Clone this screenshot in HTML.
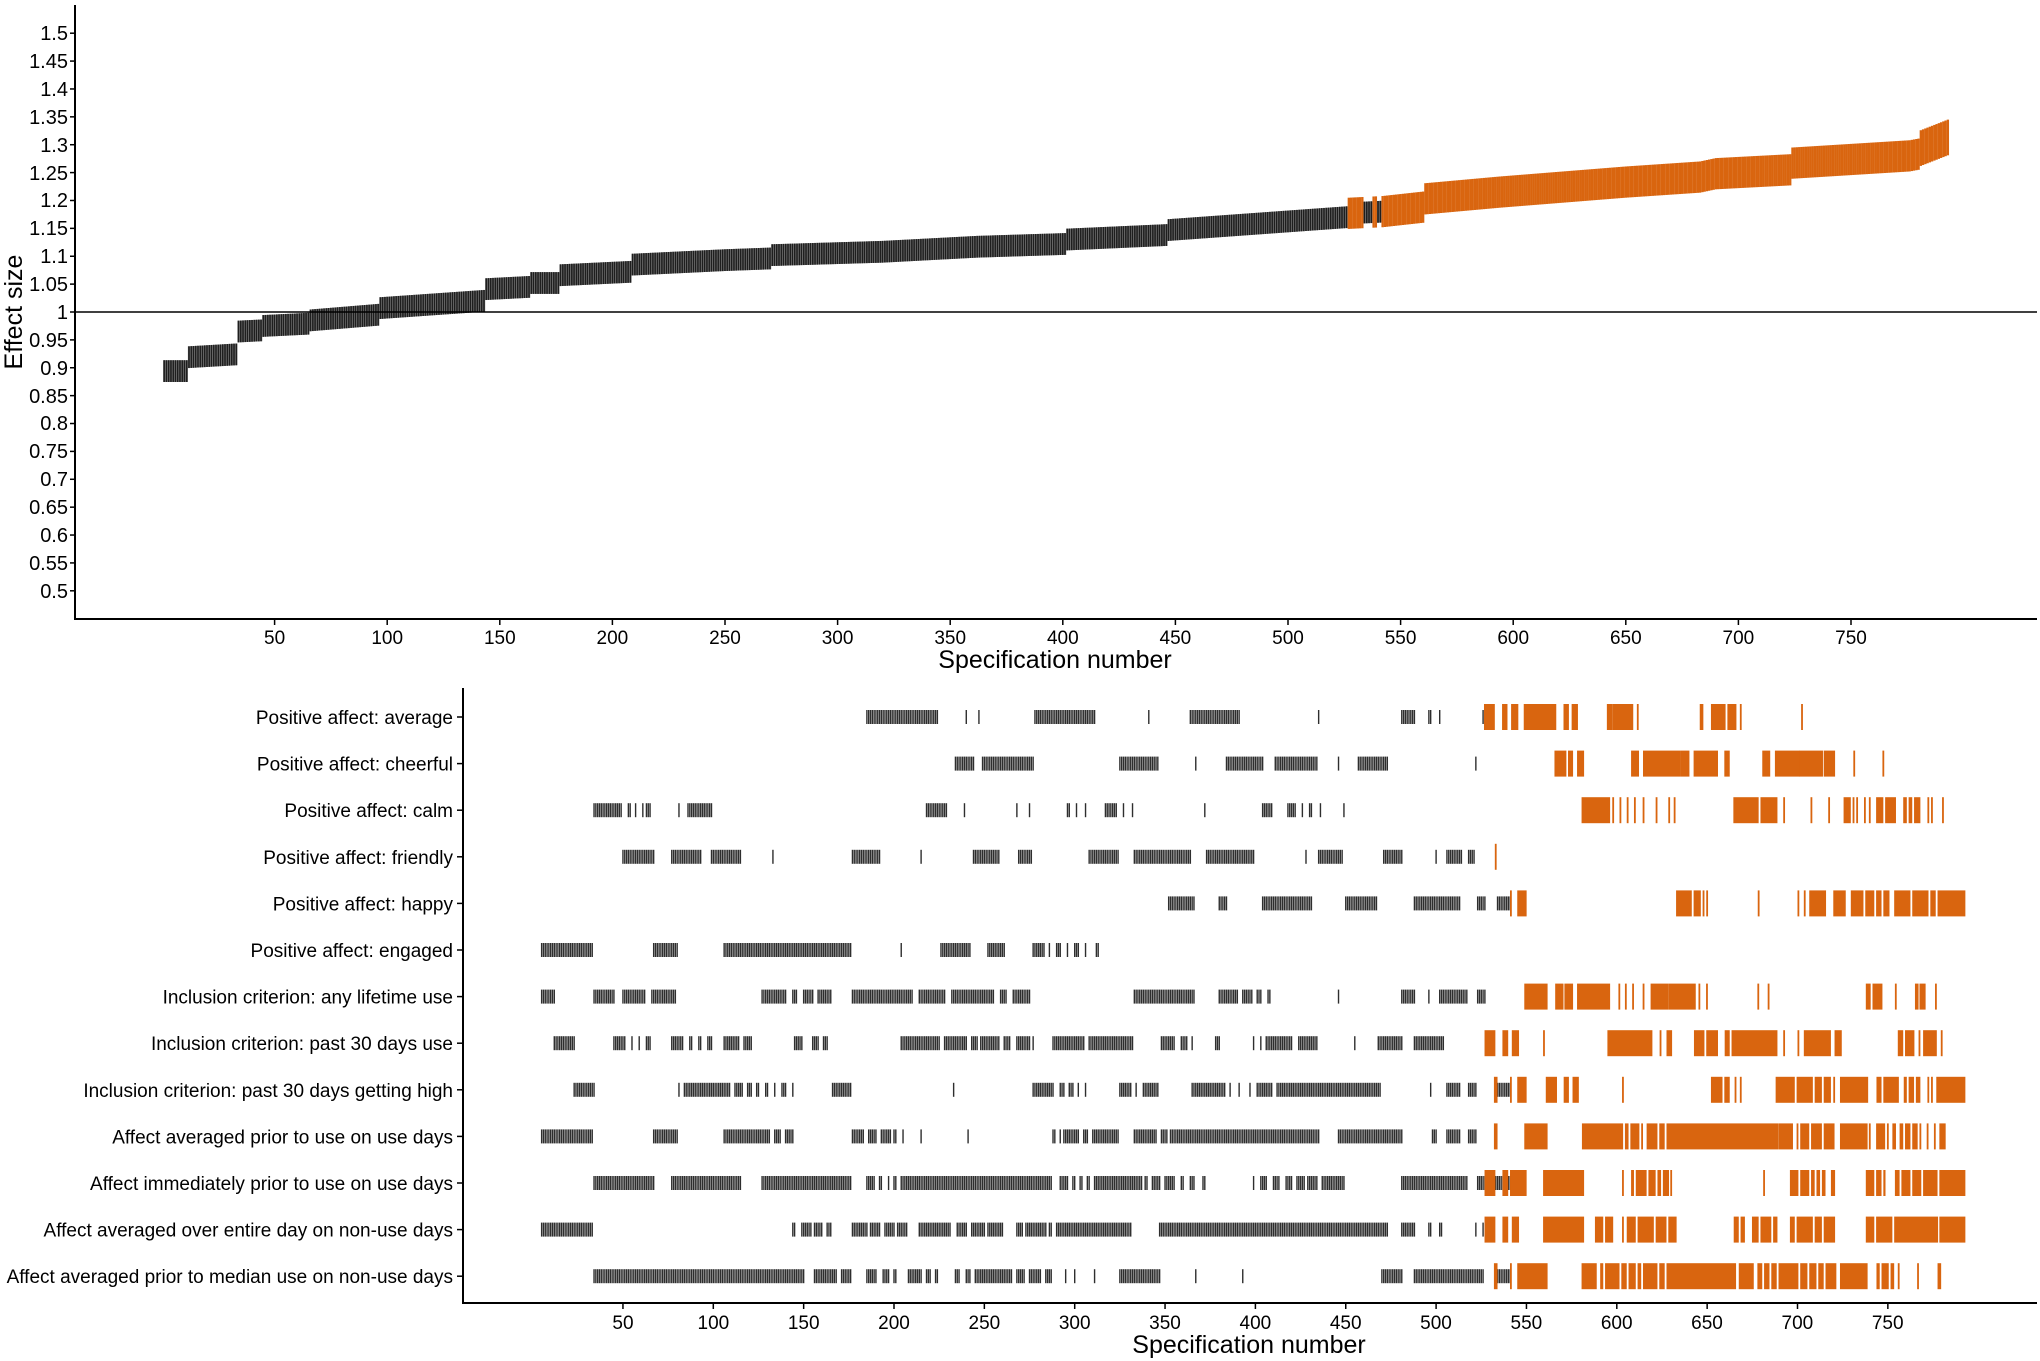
<!DOCTYPE html>
<html><head><meta charset="utf-8">
<style>
html,body{margin:0;padding:0;background:#fff;}
svg{display:block;}
text{font-family:"Liberation Sans",Arial,sans-serif;fill:#000;}
</style></head>
<body>
<svg id="s" width="2040" height="1361" viewBox="0 0 2040 1361" xmlns="http://www.w3.org/2000/svg">
<g id="topg"></g>
<g id="botg"></g>
<line x1="75" y1="5" x2="75" y2="620" stroke="#000" stroke-width="2"/>
<line x1="74" y1="619" x2="2037" y2="619" stroke="#000" stroke-width="2"/>
<line x1="75" y1="312" x2="2037" y2="312" stroke="#000" stroke-width="1.6"/>
<g font-size="20" text-anchor="end">
<text x="68" y="40">1.5</text><text x="68" y="68">1.45</text><text x="68" y="96">1.4</text><text x="68" y="124">1.35</text><text x="68" y="152">1.3</text><text x="68" y="180">1.25</text><text x="68" y="207">1.2</text><text x="68" y="235">1.15</text><text x="68" y="263">1.1</text><text x="68" y="291">1.05</text><text x="68" y="319">1</text><text x="68" y="347">0.95</text><text x="68" y="375">0.9</text><text x="68" y="403">0.85</text><text x="68" y="430">0.8</text><text x="68" y="458">0.75</text><text x="68" y="486">0.7</text><text x="68" y="514">0.65</text><text x="68" y="542">0.6</text><text x="68" y="570">0.55</text><text x="68" y="598">0.5</text>
</g>
<g font-size="19" text-anchor="middle">
<text x="274.6" y="644">50</text><text x="387.2" y="644">100</text><text x="499.8" y="644">150</text><text x="612.4" y="644">200</text><text x="725" y="644">250</text><text x="837.6" y="644">300</text><text x="950.2" y="644">350</text><text x="1062.8" y="644">400</text><text x="1175.4" y="644">450</text><text x="1288" y="644">500</text><text x="1400.6" y="644">550</text><text x="1513.2" y="644">600</text><text x="1625.8" y="644">650</text><text x="1738.4" y="644">700</text><text x="1851" y="644">750</text>
</g>
<text x="1055" y="668" font-size="25" text-anchor="middle">Specification number</text>
<text transform="translate(22,312) rotate(-90)" font-size="25" text-anchor="middle">Effect size</text>
<line x1="463" y1="688" x2="463" y2="1304" stroke="#000" stroke-width="2"/>
<line x1="462" y1="1303" x2="2037" y2="1303" stroke="#000" stroke-width="2"/>
<g font-size="19" text-anchor="end">
<text x="453" y="724">Positive affect: average</text>
<text x="453" y="770.6">Positive affect: cheerful</text>
<text x="453" y="817.2">Positive affect: calm</text>
<text x="453" y="863.8">Positive affect: friendly</text>
<text x="453" y="910.4">Positive affect: happy</text>
<text x="453" y="957">Positive affect: engaged</text>
<text x="453" y="1003.6">Inclusion criterion: any lifetime use</text>
<text x="453" y="1050.2">Inclusion criterion: past 30 days use</text>
<text x="453" y="1096.8">Inclusion criterion: past 30 days getting high</text>
<text x="453" y="1143.4">Affect averaged prior to use on use days</text>
<text x="453" y="1190">Affect immediately prior to use on use days</text>
<text x="453" y="1236.6">Affect averaged over entire day on non-use days</text>
<text x="453" y="1283.2">Affect averaged prior to median use on non-use days</text>
</g>
<g font-size="19" text-anchor="middle">
<text x="623" y="1329">50</text><text x="713.4" y="1329">100</text><text x="803.7" y="1329">150</text><text x="894" y="1329">200</text><text x="984.4" y="1329">250</text><text x="1074.7" y="1329">300</text><text x="1165" y="1329">350</text><text x="1255.4" y="1329">400</text><text x="1345.7" y="1329">450</text><text x="1436" y="1329">500</text><text x="1526.4" y="1329">550</text><text x="1616.7" y="1329">600</text><text x="1707" y="1329">650</text><text x="1797.4" y="1329">700</text><text x="1887.7" y="1329">750</text>
</g>
<text x="1249" y="1353" font-size="25" text-anchor="middle">Specification number</text>
<g id="ticks"></g>
</svg>
<script>
(function(){
var NS="http://www.w3.org/2000/svg";
function el(p,t,a){var e=document.createElementNS(NS,t);for(var k in a)e.setAttribute(k,a[k]);p.appendChild(e);return e;}
var tk=document.getElementById('ticks');
for(var i=0;i<=20;i++){var y=33.2+i*27.88;el(tk,'line',{x1:70,x2:75,y1:y,y2:y,stroke:'#000','stroke-width':1.5});}
for(var n=50;n<=750;n+=50){var x=162+2.252*n;el(tk,'line',{x1:x,x2:x,y1:619,y2:625,stroke:'#000','stroke-width':1.5});
 var xb=532.6+1.807*n;el(tk,'line',{x1:xb,x2:xb,y1:1303,y2:1309,stroke:'#000','stroke-width':1.5});}
for(var r=0;r<13;r++){var y=717+46.6*r;el(tk,'line',{x1:457,x2:463,y1:y,y2:y,stroke:'#000','stroke-width':1.5});}
var knots=[[1,.894],[11,.894],[12,.919],[33,.924],[34,.965],[44,.967],[45,.975],[65,.979],[66,.985],[96,.995],[97,1.007],[143,1.02],[144,1.041],[163,1.045],[164,1.052],[176,1.052],[177,1.066],[208,1.072],[209,1.085],[250,1.093],[270,1.096],[271,1.102],[320,1.108],[362,1.117],[401,1.122],[402,1.13],[446,1.138],[447,1.147],[526,1.17],[527,1.177],[542,1.18],[560,1.188],[561,1.203],[594,1.215],[650,1.233],[683,1.242],[690,1.248],[723,1.255],[724,1.267],[776,1.28],[780,1.283],[781,1.294],[793,1.313]];
function mid(n){for(var i=0;i<knots.length-1;i++){var a=knots[i],b=knots[i+1];if(n>=a[0]&&n<=b[0]){return a[1]+(b[1]-a[1])*(n-a[0])/(b[0]-a[0]);}}return knots[knots.length-1][1];}
function isOr(n){return (n>=527&&n<=533)||(n>=538&&n<=539)||n>=542;}
var tg=document.getElementById('topg');
function Y(v){return 312-(v-1)*557.6;}
for(var n=1;n<=793;n++){var m=mid(n);var o=isOr(n);var h=o?(n>=781?0.032:0.028):0.0195;var x=162+2.252*n;
 var y1=Y(m+h),y2=Y(m-h);
 if(o){el(tg,'rect',{x:x-1.15,y:y1,width:2.35,height:y2-y1,fill:'#d9650f'});}
 else{el(tg,'rect',{x:x-1.13,y:y1,width:2.26,height:y2-y1,fill:'#6a6a6a'});el(tg,'rect',{x:x-0.8,y:y1,width:1.5,height:y2-y1,fill:'#1e1e1e'});}
}
var rows=[
[[[185,224],[240,240],[247,247],[278,311],[341,341],[364,391],[435,435],[481,488],[496,497],[502,502],[526,526]],
 [[527,532],[537,539],[542,545],[549,566],[571,573],[575.5,578],[595,597],[598,608.6],[611.6,611.6],[646.4,647.4],[652.6,659.7],[661.7,665.7],[668.6,668.6],[702.5,702.5]]],
[[[234,244],[249,277],[325,346],[367,367],[384,404],[411,434],[446,446],[457,473],[522,522]],
 [[566,571.6],[573.5,575.3],[578.5,581.4],[608.4,611.8],[615,635],[636,639.7],[643,655.5],[660,662],[681,684.4],[688,700.8],[701.5,713.6],[715,720.3],[731.4,731.4],[747.5,747.5]]],
[[[34,49],[53,54],[57,57],[61,61],[63,65],[81,81],[86,99],[218,229],[239,239],[268,268],[275,275],[296,297],[301,301],[306,306],[317,323],[327,327],[332,332],[372,372],[404,409],[418,422],[426,426],[430,431],[436,436],[449,449]],
 [[581,595.8],[598,598],[602,602],[606,606],[610,610],[614.8,614.8],[622,622],[629,629],[632,632],[665,678],[680,688.4],[692.6,692.6],[707.7,707.7],[717.5,717.5],[726,729],[731,731],[733,733],[737.3,737.3],[740,740],[744,747],[749,754],[759,760],[762,763],[765,767.5],[772.4,772.4],[774.4,774.4],[780.5,780.5]]],
[[[50,67],[77,93],[99,115],[133,133],[177,192],[215,215],[244,258],[269,276],[308,324],[333,364],[373,399],[428,428],[435,448],[471,481],[500,500],[506,514],[518,521]],
 [[533,533]]],
[[[352,366],[380,384],[404,431],[450,467],[488,513],[523,527],[534,541]],
 [[541.4,541.4],[545.4,549.6],[633.3,641],[643,646],[648,648],[650,650],[678.5,678.5],[700.5,700.5],[704,704],[707,715.3],[720.3,726.2],[730,736],[738,742],[744,746],[748,750.4],[754,762],[764,772],[774,776],[778,792.4]]],
[[[5,33],[67,80],[106,176],[204,204],[226,242],[252,261],[277,283],[286,286],[290,292],[296,296],[300,302],[306,306],[312,313]],[]],
[[[5,11.6],[34,44.5],[50,62],[66,79],[127,140],[144,146],[150,155],[158,165],[177,210],[214,228],[232,255],[259,262],[266,275],[333,366],[380,390],[393,398],[401,403],[407,408],[446,446],[481,488],[496,496],[502,517],[523,527]],
 [[549.3,561.2],[566.4,570],[571.5,575.3],[578.5,595.8],[601.4,601.4],[605,605],[609,609],[614.8,614.8],[619.2,628],[629,643.2],[645.7,645.7],[649.9,649.9],[678.3,678.3],[684,684],[738.3,740],[742,746.5],[754.4,754.4],[765.5,766.5],[768,770.4],[776.6,776.6]]],
[[[12,23],[45,51],[55,55],[59,59],[63,65],[77,83],[87,88],[92,93],[97,99],[106,114],[117,121],[145,149],[155,158],[161,163],[204,225],[228,240],[243,246],[248,258],[261,264],[268,275],[277,277],[288,305],[308,332],[348,355],[359,362],[365,365],[378,380],[399,399],[403,403],[406,420],[424,434],[455,455],[468,481],[488,504]],
 [[527.3,532.3],[537.2,539.4],[542.4,545.4],[559.7,559.7],[595.3,619.2],[624.2,624.2],[628,630.1],[643.2,648],[650,655.5],[660.2,662],[664,688.4],[692.6,692.6],[700.5,700.5],[704,718],[721,724],[756,758],[760,764.2],[767.5,767.5],[770,776.6],[779.8,779.8]]],
[[[23,34],[81,81],[84,109],[112,116],[119,121],[124,125],[129,130],[134,134],[138,140],[144,144],[166,176],[233,233],[277,288],[292,294],[297,299],[302,302],[306,306],[325,331],[334,334],[338,346],[365,383],[386,386],[391,391],[397,397],[401,409],[412,469],[497,497],[506,513],[518,522],[533,541]],
 [[532.5,533.5],[541.4,541.4],[545.4,549.6],[561.2,566.4],[571.1,573],[576,578.5],[603.4,603.4],[652.6,658],[660,662],[665.7,665.7],[668.6,668.6],[688.4,698],[700,708],[710,713],[715,718],[720.3,720.3],[724,738.6],[744.2,746],[748,755.6],[759.3,760],[762,764],[766,767.5],[772.4,772.4],[774.4,774.4],[777.3,792.4]]],
[[[5,33],[67,80],[106,131],[134,137],[140,144],[177,183],[186,190],[193,198],[200,201],[205,205],[215,215],[241,241],[288,289],[292,292],[294,302],[305,307],[310,324],[333,345],[348,351],[353,435],[446,481],[498,500],[506,513],[518,522]],
 [[532.5,533.5],[549.3,561.2],[581.2,603],[605,606],[608,612],[614,614],[617,622],[624,626],[628,688.9],[690,697],[700,700],[702,706],[708,713],[715,720],[724,738.3],[740,740],[744,748],[750,750],[753,754],[757,758],[760,762],[764,766],[768,768],[772,772],[776,776],[779,781.5]]],
[[[34,67],[77,115],[127,176],[185,189],[192,193],[197,197],[200,201],[204,287],[292,296],[299,300],[303,304],[307,308],[311,337],[339,340],[343,347],[350,355],[359,360],[364,366],[371,372],[399,399],[403,406],[410,413],[417,420],[423,427],[429,434],[437,449],[481,517],[523,527],[533,541]],
 [[527.3,532.3],[537.2,539.4],[541.4,549.6],[559.7,581.4],[603.4,603.4],[608.4,609],[611,616],[618,621],[623,624],[626,628.4],[630.1,630.1],[681.5,681.5],[696.3,700],[702,706],[708,709],[711,712],[714,715],[719,720.3],[738.3,742],[744,746],[748,748.2],[754.4,756],[758,762],[764,768],[770,777],[779,792.4]]],
[[[5,33],[144,145],[149,154],[156,160],[163,165],[177,185],[187,192],[195,200],[202,207],[214,231],[235,240],[243,250],[252,260],[268,271],[273,284],[286,287],[290,331],[347,473],[481,488],[496,497],[502,503],[522,522],[526,526]],
 [[527.3,532.3],[537.2,539.4],[542.4,545.4],[559.7,581.4],[588.4,592],[594,597.5],[603.4,603.4],[606,610],[612,620],[622,627],[629,632.6],[665.2,667],[669,670.4],[675.3,678],[680,685],[687,688.4],[696.3,698],[700,708],[710,713],[715,720.3],[738.3,742],[744,752],[754,777.3],[779,792.4]]],
[[[34,150],[156,168],[171,176],[185,190],[194,197],[200,201],[208,215],[218,220],[223,224],[234,236],[240,242],[245,265],[268,272],[275,281],[284,287],[295,295],[300,300],[311,311],[325,347],[367,367],[393,393],[470,481],[488,526],[533,541]],
 [[532.5,533.5],[541.4,541.4],[545.4,561.2],[581,588.4],[591.3,592],[594,601],[603,605],[607,610],[612,613],[615,622],[624,626],[628,665.5],[668,675.3],[678.3,680],[682,684],[686,688],[690,700],[702,705],[707,710],[712,714],[716,721],[724,738.3],[744.2,745],[747,750],[752,753],[756,756],[766.7,766.7],[778,779]]]
];
var bg=document.getElementById('botg');
function XB(n){return 532.6+1.807*n;}
for(var r=0;r<rows.length;r++){var yc=717+46.6*r;
 var ds=rows[r][0],os=rows[r][1];
 for(var j=0;j<ds.length;j++){var a=Math.round(ds[j][0]),b=Math.round(ds[j][1]);
  for(var n=a;n<=b;n++){el(bg,'rect',{x:XB(n)-0.7,y:yc-7,width:1.4,height:14,fill:'#2e2e2e'});}}
 for(var j=0;j<os.length;j++){var a=os[j][0],b=os[j][1];
  el(bg,'rect',{x:XB(a)-0.9,y:yc-13,width:(b-a)*1.807+1.8,height:26,fill:'#d9650f'});}
}
})();
</script>
</body></html>
